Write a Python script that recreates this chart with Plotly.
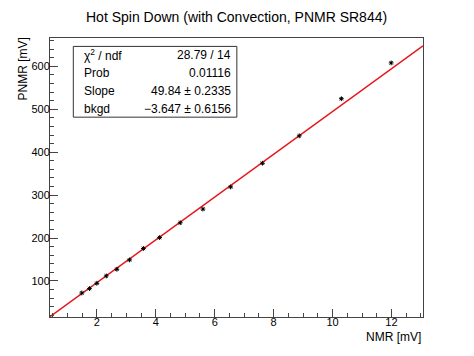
import plotly.graph_objects as go

# data
nmr = [1.49, 1.75, 2.00, 2.32, 2.68, 3.11, 3.58, 4.13, 4.83, 5.60, 6.54, 7.62, 8.87, 10.30, 11.99]
pnmr = [72.0, 82.2, 94.6, 111.7, 127.3, 149.0, 175.7, 201.0, 235.5, 267.5, 319.0, 374.3, 438.0, 524.5, 608.0]
pnmr_err = [3.0] * len(nmr)
nmr_err = [0.03] * len(nmr)

slope = 49.84
bkgd = -3.647
x_range = [0.41, 13.07]
y_range = [16, 666]

stat_labels = ["χ<sup>2</sup> / ndf", "Prob", "Slope", "bkgd"]
stat_values = ["28.79 / 14", "0.01116", "49.84 ± 0.2335", "−3.647 ± 0.6156"]

FONT = "Liberation Sans, Arial, Helvetica, sans-serif"
OFF = 8  # page body margin

fig = go.Figure()
fit_x = x_range
fit_y = [slope * v + bkgd for v in fit_x]
fig.add_trace(go.Scatter(x=fit_x, y=fit_y, mode="lines",
                         line=dict(color="#e8141c", width=1.5), hoverinfo="skip",
                         showlegend=False))
fig.add_trace(go.Scatter(
    x=nmr, y=pnmr, mode="markers",
    marker=dict(symbol="asterisk-open", size=4, color="black", line=dict(color="black", width=1)),
    error_y=dict(type="data", array=pnmr_err, color="black", thickness=1, width=0),
    error_x=dict(type="data", array=nmr_err, color="black", thickness=1, width=0),
    showlegend=False))

axis_common = dict(showgrid=False, zeroline=False, showline=True, mirror=True,
                   linecolor="#444", linewidth=1, ticks="inside", tickcolor="#444",
                   tickfont=dict(family=FONT, size=11, color="black"))

fig.update_xaxes(range=x_range, dtick=2, tick0=0, ticklen=8, ticklabelstandoff=-5,
                 minor=dict(dtick=0.5, tick0=0, ticks="inside", ticklen=4, tickcolor="#444"),
                 **axis_common)
fig.update_yaxes(range=y_range, dtick=100, tick0=0, ticklen=8, ticklabelstandoff=-3,
                 minor=dict(dtick=20, tick0=0, ticks="inside", ticklen=4, tickcolor="#444"),
                 **axis_common)

pl, pr, pt, pb = 50, 422.7, 38.3, 316.7

annotations = [
    dict(text="Hot Spin Down (with Convection, PNMR SR844)", xref="paper", yref="paper",
         x=0.5, y=1, xanchor="center", yanchor="middle", yshift=(pt - OFF) - 9,
         showarrow=False, font=dict(family=FONT, size=14, color="black")),
    dict(text="NMR [mV]", xref="paper", yref="paper", x=1, y=0, xanchor="right",
         yanchor="top", yshift=-11, showarrow=False, font=dict(family=FONT, size=12, color="black")),
    dict(text="PNMR [mV]", xref="paper", yref="paper", x=0, y=1, xanchor="right",
         yanchor="top", xshift=-19, yshift=2, textangle=-90, showarrow=False,
         font=dict(family=FONT, size=12, color="black")),
]

# stats box (pixel positions from the reference)
box_x0, box_x1 = 73.3, 236.7
box_y0, box_y1 = 46.7, 117.3
def px2paper_x(px):
    return (px - pl) / (pr - pl)
def px2paper_y(py):
    return (pb - py) / (pb - pt)

shapes = [dict(type="rect", xref="paper", yref="paper",
               x0=px2paper_x(box_x0), x1=px2paper_x(box_x1),
               y0=px2paper_y(box_y1), y1=px2paper_y(box_y0),
               line=dict(color="#333", width=1), fillcolor="white", layer="above")]
row_y = [55.5, 73.5, 91.5, 109.5]
for lab, val, ry in zip(stat_labels, stat_values, row_y):
    annotations.append(dict(text=lab, xref="paper", yref="paper", x=px2paper_x(82),
                            y=px2paper_y(ry), xanchor="left", yanchor="middle", showarrow=False,
                            font=dict(family=FONT, size=12, color="black")))
    annotations.append(dict(text=val, xref="paper", yref="paper", x=px2paper_x(233),
                            y=px2paper_y(ry), xanchor="right", yanchor="middle", showarrow=False,
                            font=dict(family=FONT, size=12, color="black")))

fig.update_layout(width=474, height=356,
                  margin=dict(l=pl - OFF, r=474 - (pr - OFF), t=pt - OFF, b=356 - (pb - OFF)),
                  paper_bgcolor="white", plot_bgcolor="white",
                  annotations=annotations, shapes=shapes)

fig.write_html("out.html")
